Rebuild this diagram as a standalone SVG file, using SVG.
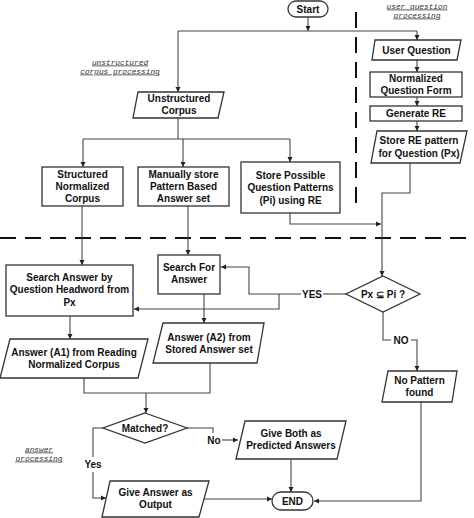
<svg xmlns="http://www.w3.org/2000/svg" width="474" height="518" viewBox="0 0 474 518">
<style>
.n{fill:#fff;stroke:#333;stroke-width:1.3}
.t{font-family:"Liberation Sans",Arial,sans-serif;font-weight:bold;font-size:10px;fill:#111;text-anchor:middle}
.c{fill:none;stroke:#444;stroke-width:1.1}
.d{fill:none;stroke:#111;stroke-width:2;stroke-dasharray:16 9}
.l{font-family:"Liberation Mono","DejaVu Sans Mono",monospace;font-style:italic;font-size:7.8px;fill:#333;text-anchor:middle;text-decoration:underline}
</style>
<defs>
<marker id="a" markerWidth="6" markerHeight="6" refX="5" refY="3" orient="auto" markerUnits="userSpaceOnUse">
<path d="M0,0.5 L5,3 L0,5.5 Z" fill="#222"/>
</marker>
</defs>
<rect width="474" height="518" fill="#fff"/>
<g id="dividers">
<line class="d" x1="356" y1="12" x2="356" y2="212"/>
<line class="d" x1="0" y1="238" x2="474" y2="238"/>
</g>
<g id="section-labels">
<text class="l" x="120" y="64.5">unstructured</text>
<text class="l" x="120" y="73.5">corpus processing</text>
<text class="l" x="417" y="8.5">user question</text>
<text class="l" x="417" y="17.5">processing</text>
<text class="l" x="39" y="451.5">answer</text>
<text class="l" x="39" y="460.5">processing</text>
</g>
<g id="connectors">
<path class="c" d="M308 17 V31" marker-end="url(#a)"/>
<path class="c" d="M178 31 H417"/>
<path class="c" d="M178 31 V92" marker-end="url(#a)"/>
<path class="c" d="M417 31 V40" marker-end="url(#a)"/>
<path class="c" d="M178 118 V139"/>
<path class="c" d="M83 139 H290"/>
<path class="c" d="M83 139 V167" marker-end="url(#a)"/>
<path class="c" d="M183 139 V167" marker-end="url(#a)"/>
<path class="c" d="M290 139 V162" marker-end="url(#a)"/>
<path class="c" d="M417 60 V72" marker-end="url(#a)"/>
<path class="c" d="M417 97 V106" marker-end="url(#a)"/>
<path class="c" d="M417 121 V131" marker-end="url(#a)"/>
<path class="c" d="M410 163 V193 H382 V276" marker-end="url(#a)"/>
<path class="c" d="M290 213 V224 H381" marker-end="url(#a)"/>
<path class="c" d="M346 294 H323"/>
<path class="c" d="M301 294 H249 V267 H221" marker-end="url(#a)"/>
<path class="c" d="M279 294 V309 H134" marker-end="url(#a)"/>
<path class="c" d="M188 206 V255" marker-end="url(#a)"/>
<path class="c" d="M82 206 V265" marker-end="url(#a)"/>
<path class="c" d="M70 316 V339" marker-end="url(#a)"/>
<path class="c" d="M204 294 V323" marker-end="url(#a)"/>
<path class="c" d="M84 378 V393 H210 V363"/>
<path class="c" d="M146 393 V413" marker-end="url(#a)"/>
<path class="c" d="M103 428 H93 V457"/>
<path class="c" d="M93 472 V498 H106" marker-end="url(#a)"/>
<path class="c" d="M187 428 H213 V433"/>
<path class="c" d="M222 440 H238" marker-end="url(#a)"/>
<path class="c" d="M204 499 H272" marker-end="url(#a)"/>
<path class="c" d="M291 459 V492" marker-end="url(#a)"/>
<path class="c" d="M383 312 V340 H391"/>
<path class="c" d="M411 340 H417 V371" marker-end="url(#a)"/>
<path class="c" d="M421 402 V501 H314" marker-end="url(#a)"/>
<text class="t" x="312" y="297.5">YES</text>
<text class="t" x="401" y="343.5">NO</text>
<text class="t" x="93" y="467.5">Yes</text>
<text class="t" x="214" y="443.5">No</text>
</g>
<g id="start">
<rect class="n" x="288" y="1" width="40" height="16" rx="8"/>
<text class="t" x="308" y="12.5">Start</text>
</g>
<g id="unstructured-corpus">
<polygon class="n" points="138,92 224,92 218,118 133,118"/>
<text class="t" x="179" y="101.5">Unstructured</text>
<text class="t" x="179" y="113.5">Corpus</text>
</g>
<g id="structured-corpus">
<rect class="n" x="42" y="167" width="81" height="39"/>
<text class="t" x="82.5" y="178">Structured</text>
<text class="t" x="82.5" y="190">Normalized</text>
<text class="t" x="82.5" y="202">Corpus</text>
</g>
<g id="manual-store">
<rect class="n" x="138" y="167" width="91" height="39"/>
<text class="t" x="183.5" y="178">Manually store</text>
<text class="t" x="183.5" y="190">Pattern Based</text>
<text class="t" x="183.5" y="202">Answer set</text>
</g>
<g id="store-possible">
<rect class="n" x="241" y="162" width="99" height="51"/>
<text class="t" x="290.5" y="178.5">Store Possible</text>
<text class="t" x="290.5" y="191">Question Patterns</text>
<text class="t" x="290.5" y="203.5">(Pi) using RE</text>
</g>
<g id="user-question">
<polygon class="n" points="375,40 461,40 457,60 372,60"/>
<text class="t" x="416.5" y="53.5">User Question</text>
</g>
<g id="normalized-question">
<rect class="n" x="370" y="72" width="92" height="25"/>
<text class="t" x="416" y="82">Normalized</text>
<text class="t" x="416" y="94">Question Form</text>
</g>
<g id="generate-re">
<rect class="n" x="370" y="106" width="92" height="15"/>
<text class="t" x="416" y="117">Generate RE</text>
</g>
<g id="store-re">
<polygon class="n" points="377,131 467,131 460,163 371,163"/>
<text class="t" x="419" y="143.5">Store RE pattern</text>
<text class="t" x="419" y="156.5">for Question (Px)</text>
</g>
<g id="decision-px">
<polygon class="n" points="383,276 420,294 383,312 346,294"/>
<text class="t" x="383" y="297.5">Px ⊆ Pi ?</text>
</g>
<g id="search-for-answer">
<rect class="n" x="158" y="255" width="62" height="39"/>
<text class="t" x="189" y="270.5">Search For</text>
<text class="t" x="189" y="282.5">Answer</text>
</g>
<g id="search-headword">
<rect class="n" x="6" y="265" width="127" height="51"/>
<text class="t" x="69.5" y="280.5">Search Answer by</text>
<text class="t" x="69.5" y="293">Question Headword from</text>
<text class="t" x="69.5" y="305.5">Px</text>
</g>
<g id="answer-a1">
<polygon class="n" points="10,339 148,339 138,378 0,378"/>
<text class="t" x="74" y="355.5">Answer (A1) from Reading</text>
<text class="t" x="74" y="367.5">Normalized Corpus</text>
</g>
<g id="answer-a2">
<polygon class="n" points="163,323 264,323 257,363 153,363"/>
<text class="t" x="209" y="340.5">Answer (A2) from</text>
<text class="t" x="209" y="352.5">Stored Answer set</text>
</g>
<g id="matched">
<polygon class="n" points="145,413 187,428 145,443 103,428"/>
<text class="t" x="145" y="431.5">Matched?</text>
</g>
<g id="give-answer">
<polygon class="n" points="110,481 209,481 199,517 102,517"/>
<text class="t" x="155.5" y="495.5">Give Answer as</text>
<text class="t" x="155.5" y="507.5">Output</text>
</g>
<g id="give-both">
<polygon class="n" points="245,421 346,421 337,459 236,459"/>
<text class="t" x="291" y="436.5">Give Both as</text>
<text class="t" x="291" y="448.5">Predicted Answers</text>
</g>
<g id="no-pattern">
<polygon class="n" points="388,371 457,371 452,402 382,402"/>
<text class="t" x="419.5" y="383.5">No Pattern</text>
<text class="t" x="419.5" y="396">found</text>
</g>
<g id="end">
<rect class="n" x="272" y="492" width="41" height="18" rx="9"/>
<text class="t" x="292.5" y="504.5">END</text>
</g>
</svg>
